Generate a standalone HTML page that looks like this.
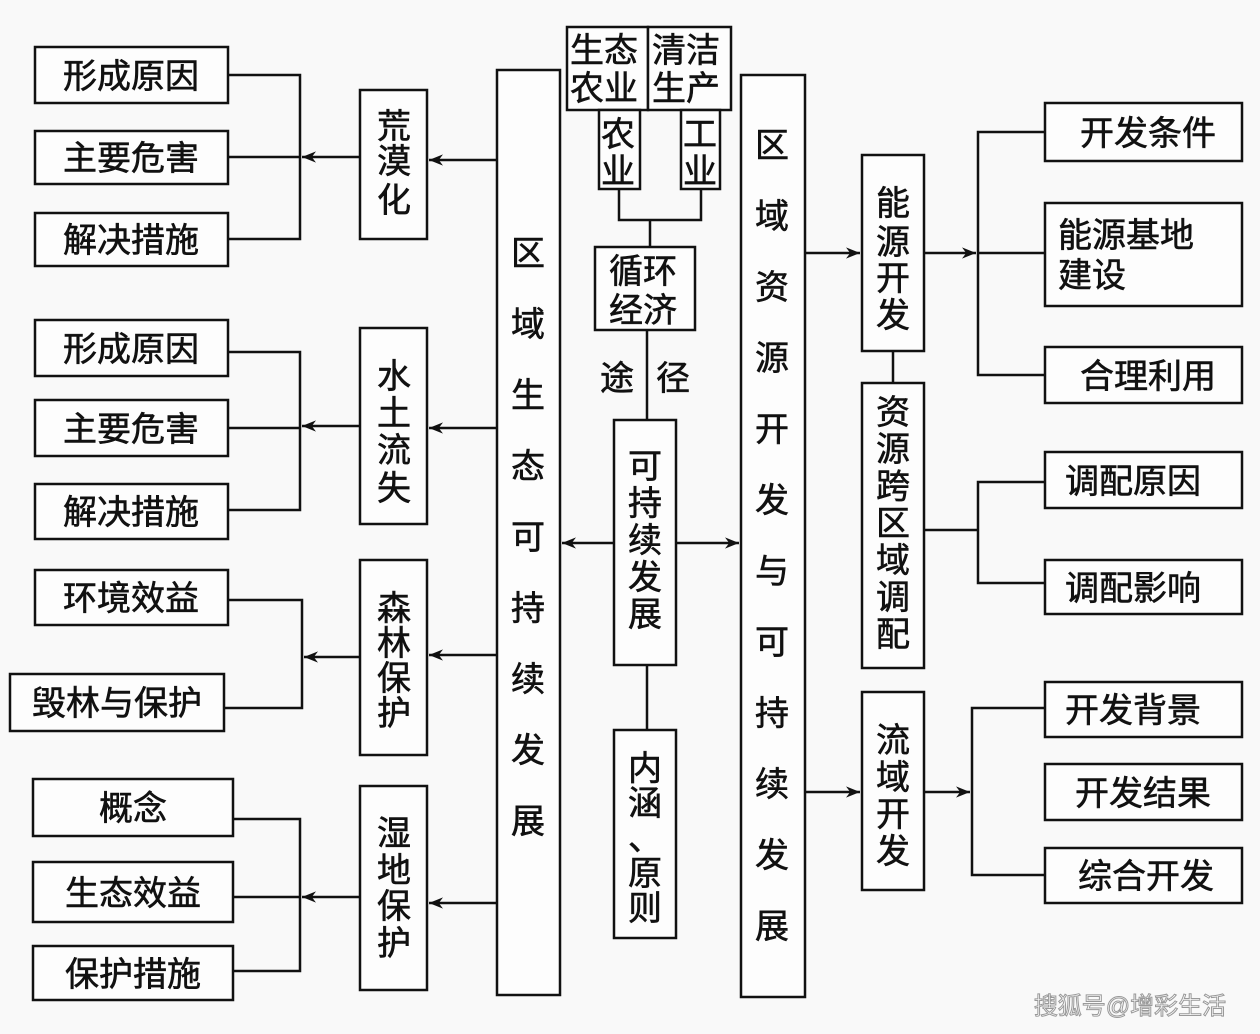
<!DOCTYPE html>
<html><head><meta charset="utf-8"><style>
html,body{margin:0;padding:0;background:#f9f9f9}
svg{display:block}
text{font-family:"Liberation Sans","Noto Sans CJK SC",sans-serif;fill:#111;stroke:#111;stroke-width:0.6}
</style></head><body>
<svg width="1260" height="1034" viewBox="0 0 1260 1034" xmlns="http://www.w3.org/2000/svg">
<defs><marker id="a" viewBox="0 0 10 10" refX="10" refY="5" markerWidth="14" markerHeight="14" markerUnits="userSpaceOnUse" orient="auto"><path d="M0,1 L10,5 L0,9 L3,5 z" fill="#111"/></marker></defs>
<g fill="#fdfdfd" stroke="#111" stroke-width="2.5">
<rect x="35" y="47" width="193" height="56"/><rect x="35" y="131" width="193" height="53"/><rect x="35" y="213" width="193" height="53"/>
<rect x="35" y="320" width="193" height="56"/><rect x="35" y="400" width="193" height="56"/><rect x="35" y="484" width="193" height="55"/>
<rect x="35" y="570" width="193" height="55"/><rect x="10" y="674" width="214" height="57"/>
<rect x="33" y="779" width="200" height="57"/><rect x="33" y="862" width="200" height="60"/><rect x="33" y="946" width="200" height="54"/>
<rect x="360" y="90" width="67" height="149"/><rect x="360" y="328" width="67" height="196"/><rect x="360" y="560" width="67" height="195"/><rect x="360" y="786" width="67" height="204"/>
<rect x="497" y="70" width="63" height="925"/>
<rect x="567" y="27" width="81" height="83"/><rect x="648" y="27" width="83" height="83"/>
<rect x="599" y="110" width="41" height="79"/><rect x="681" y="110" width="39" height="79"/>
<rect x="595" y="247" width="100" height="83"/>
<rect x="614" y="420" width="62" height="245"/><rect x="614" y="730" width="62" height="208"/>
<rect x="741" y="75" width="64" height="922"/>
<rect x="862" y="155" width="62" height="196"/><rect x="862" y="383" width="62" height="285"/><rect x="862" y="692" width="62" height="198"/>
<rect x="1045" y="103" width="197" height="58"/><rect x="1045" y="203" width="197" height="103"/><rect x="1045" y="347" width="197" height="56"/>
<rect x="1045" y="452" width="197" height="56"/><rect x="1045" y="560" width="197" height="54"/>
<rect x="1045" y="682" width="197" height="55"/><rect x="1045" y="764" width="197" height="56"/><rect x="1045" y="848" width="197" height="55"/>
</g>
<g fill="none" stroke="#111" stroke-width="2.5">
<path d="M228 75H300V239H228M228 157H300"/><path d="M228 352H300V510H228M228 428H300"/>
<path d="M228 600H302V708H224"/><path d="M233 819H300V971H233M233 897H300"/>
<path d="M619 189V220H701V189M650 220V247M647 330V420M647 665V730"/>
<path d="M893 351V383"/>
<path d="M1045 132H978V375H1045M1045 253H978"/><path d="M1045 482H978V583H1045M924 530H978"/>
<path d="M1045 708H972V875H1045"/>
</g>
<g stroke="#111" stroke-width="2.5" marker-end="url(#a)">
<line x1="497" y1="160" x2="429" y2="160"/><line x1="360" y1="157" x2="302" y2="157"/>
<line x1="497" y1="428" x2="429" y2="428"/><line x1="360" y1="426" x2="302" y2="426"/>
<line x1="497" y1="655" x2="429" y2="655"/><line x1="360" y1="657" x2="304" y2="657"/>
<line x1="497" y1="903" x2="429" y2="903"/><line x1="360" y1="897" x2="302" y2="897"/>
<line x1="614" y1="543" x2="562" y2="543"/><line x1="676" y1="543" x2="739" y2="543"/>
<line x1="805" y1="253" x2="860" y2="253"/><line x1="924" y1="253" x2="976" y2="253"/>
<line x1="805" y1="792" x2="860" y2="792"/><line x1="924" y1="792" x2="970" y2="792"/>
</g>
<g font-size="34" text-anchor="middle">
<text x="131" y="88">形成原因</text><text x="131" y="170">主要危害</text><text x="131" y="252">解决措施</text>
<text x="131" y="361">形成原因</text><text x="131" y="441">主要危害</text><text x="131" y="524">解决措施</text>
<text x="131" y="610">环境效益</text><text x="117" y="715">毁林与保护</text>
<text x="133" y="820">概念</text><text x="133" y="905">生态效益</text><text x="133" y="986">保护措施</text>
<text x="1148" y="145">开发条件</text><text x="1148" y="388">合理利用</text>
<text x="1133" y="493">调配原因</text><text x="1133" y="600">调配影响</text>
<text x="1133" y="722">开发背景</text><text x="1143" y="805">开发结果</text><text x="1146" y="888">综合开发</text>
</g>
<g font-size="34">
<text x="1058" y="247">能源基地</text><text x="1058" y="287">建设</text>
<text x="570" y="62">生态</text><text x="570" y="100">农业</text><text x="652" y="62">清洁</text><text x="652" y="100">生产</text>
<text x="601" y="146">农</text><text x="601" y="183">业</text><text x="683" y="146">工</text><text x="683" y="183">业</text>
<text x="609" y="283">循环</text><text x="609" y="322">经济</text>
<text x="600" y="390">途</text><text x="656" y="390">径</text>
</g>
<g font-size="34" text-anchor="middle">
<text x="394" y="138">荒</text><text x="394" y="173">漠</text><text x="394" y="212">化</text>
<text x="394" y="388">水</text><text x="394" y="425">土</text><text x="394" y="462">流</text><text x="394" y="500">失</text>
<text x="394" y="620">森</text><text x="394" y="655">林</text><text x="394" y="690">保</text><text x="394" y="725">护</text>
<text x="394" y="845">湿</text><text x="394" y="882">地</text><text x="394" y="918">保</text><text x="394" y="955">护</text>
<text x="528" y="265">区</text><text x="528" y="336">域</text><text x="528" y="407">生</text><text x="528" y="478">态</text><text x="528" y="549">可</text><text x="528" y="620">持</text><text x="528" y="691">续</text><text x="528" y="762">发</text><text x="528" y="833">展</text>
<text x="645" y="478">可</text><text x="645" y="515">持</text><text x="645" y="552">续</text><text x="645" y="589">发</text><text x="645" y="626">展</text>
<text x="645" y="780">内</text><text x="645" y="815">涵</text><text x="645" y="850">、</text><text x="645" y="885">原</text><text x="645" y="920">则</text>
<text x="772" y="157">区</text><text x="772" y="228">域</text><text x="772" y="299">资</text><text x="772" y="370">源</text><text x="772" y="441">开</text><text x="772" y="512">发</text><text x="772" y="583">与</text><text x="772" y="654">可</text><text x="772" y="725">持</text><text x="772" y="796">续</text><text x="772" y="867">发</text><text x="772" y="938">展</text>
<text x="893" y="215">能</text><text x="893" y="254">源</text><text x="893" y="290">开</text><text x="893" y="327">发</text>
<text x="893" y="424">资</text><text x="893" y="461">源</text><text x="893" y="498">跨</text><text x="893" y="535">区</text><text x="893" y="572">域</text><text x="893" y="609">调</text><text x="893" y="646">配</text>
<text x="893" y="752">流</text><text x="893" y="789">域</text><text x="893" y="826">开</text><text x="893" y="863">发</text>
</g>
<text x="1130" y="1014" font-size="24" text-anchor="middle" style="fill:#fff;stroke:#999;stroke-width:1">搜狐号@增彩生活</text>
</svg>
</body></html>
